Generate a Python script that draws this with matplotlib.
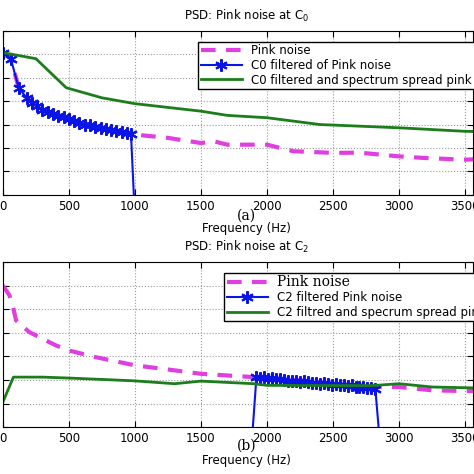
import matplotlib.pyplot as plt

# panel (a): PSD at C0 (arbitrary units, 0..7 grid)
pink_a_f = [0, 60, 120, 180, 240, 300, 420, 540, 720, 900, 1000, 1250, 1500, 1600, 1700, 2000, 2200, 2500, 2700, 3000, 3200, 3500, 3600]
pink_a = [6.07, 5.81, 4.57, 4.14, 3.86, 3.64, 3.36, 3.14, 2.86, 2.64, 2.57, 2.43, 2.21, 2.28, 2.14, 2.14, 1.86, 1.79, 1.80, 1.64, 1.57, 1.50, 1.52]
blue_a_f = [0, 60, 120, 180, 220, 260, 300, 340, 380, 420, 460, 500, 540, 580, 620, 660, 700, 740, 780, 820, 860, 900, 940, 970, 1000]
blue_a = [6.07, 5.81, 4.57, 4.14, 3.93, 3.80, 3.64, 3.52, 3.43, 3.36, 3.30, 3.22, 3.14, 3.07, 3.00, 2.96, 2.90, 2.86, 2.80, 2.76, 2.72, 2.66, 2.62, 2.61, -1.0]
green_a_f = [0, 250, 480, 750, 1000, 1500, 1700, 2000, 2400, 2700, 3000, 3500, 3600]
green_a = [6.07, 5.81, 4.57, 4.14, 3.89, 3.57, 3.39, 3.29, 3.00, 2.93, 2.86, 2.71, 2.70]

# panel (b): PSD at C2
pink_b_f = [0, 50, 80, 100, 200, 400, 500, 700, 1000, 1200, 1500, 1700, 1900, 2200, 2500, 2800, 3000, 3250, 3500, 3600]
pink_b = [6.01, 5.59, 5.02, 4.53, 4.03, 3.47, 3.25, 2.97, 2.62, 2.48, 2.26, 2.19, 2.12, 2.00, 1.85, 1.70, 1.70, 1.56, 1.53, 1.54]
blue_b_f = [1880, 1920, 1950, 1980, 2010, 2040, 2070, 2100, 2130, 2160, 2190, 2220, 2250, 2280, 2310, 2340, 2370, 2400, 2430, 2460, 2490, 2520, 2550, 2580, 2610, 2640, 2670, 2700, 2730, 2760, 2790, 2820, 2860]
blue_b = [-1.0, 2.12, 2.10, 2.13, 2.05, 2.08, 2.02, 2.04, 1.98, 1.96, 1.95, 1.97, 1.92, 1.94, 1.90, 1.88, 1.86, 1.84, 1.86, 1.82, 1.80, 1.81, 1.78, 1.80, 1.76, 1.79, 1.72, 1.70, 1.68, 1.66, 1.65, 1.63, -1.0]
green_b_f = [0, 80, 300, 500, 800, 1000, 1300, 1500, 1900, 2000, 2500, 2800, 3000, 3250, 3500, 3600]
green_b = [1.06, 2.12, 2.12, 2.08, 2.01, 1.96, 1.84, 1.95, 1.84, 1.77, 1.76, 1.76, 1.84, 1.70, 1.67, 1.66]

xticks = [0, 500, 1000, 1500, 2000, 2500, 3000, 3500]
pink_c = '#e03ee0'
blue_c = '#0a14e6'
green_c = '#1b7d1b'
star = (6, 2, 0)  # asterisk marker

fig = plt.figure(figsize=(4.74, 4.74), dpi=100)
ax1 = fig.add_axes([0.006, 0.589, 0.992, 0.346])
ax2 = fig.add_axes([0.006, 0.099, 0.992, 0.348])

for ax in (ax1, ax2):
    ax.set_xlim(0, 3560)
    ax.set_ylim(0, 7)
    ax.set_xticks(xticks)
    ax.set_yticks(range(8))
    ax.set_yticklabels([])
    ax.tick_params(direction='in', labelsize=8.5, length=4, top=True, right=True)
    ax.grid(True, linestyle=':', color='#999999', linewidth=0.8)

ax1.plot(pink_a_f, pink_a, '--', color=pink_c, lw=3, dashes=(3.5, 2.5), label='Pink noise')
ax1.plot(blue_a_f, blue_a, '-', marker=star, color=blue_c, lw=1.5, ms=9, mew=1.5,
         label='C0 filtered of Pink noise', markevery=list(range(len(blue_a_f) - 1)))
ax1.plot(green_a_f, green_a, '-', color=green_c, lw=2, label='C0 filtered and spectrum spread pink noise')
ax1.legend(loc='upper right', fontsize=8.5, fancybox=False, framealpha=1, edgecolor='black',
           borderpad=0.2, handlelength=3.5, labelspacing=0.15, bbox_to_anchor=(1.09, 0.97))

ax2.plot(pink_b_f, pink_b, '--', color=pink_c, lw=3, dashes=(3.5, 2.5), label='Pink noise')
ax2.plot(blue_b_f, blue_b, '-', marker=star, color=blue_c, lw=1.5, ms=9, mew=1.5,
         label='C2 filtered Pink noise', markevery=list(range(1, len(blue_b_f) - 1)))
ax2.plot(green_b_f, green_b, '-', color=green_c, lw=2, label='C2 filtred and specrum spread pink noise')
leg2 = ax2.legend(loc='upper right', fontsize=8.5, fancybox=False, framealpha=1, edgecolor='black',
                  borderpad=0.2, handlelength=3.5, labelspacing=0.15, bbox_to_anchor=(1.12, 0.97))
leg2.get_texts()[0].set_family('DejaVu Serif')
leg2.get_texts()[0].set_fontsize(10)

fig.text(0.52, 0.967, 'PSD: Pink noise at C$_0$', ha='center', va='center', fontsize=8.5)
fig.text(0.52, 0.545, '(a)', ha='center', va='center', fontsize=10, family='DejaVu Serif')
fig.text(0.52, 0.517, 'Frequency (Hz)', ha='center', va='center', fontsize=8.5)
fig.text(0.52, 0.479, 'PSD: Pink noise at C$_2$', ha='center', va='center', fontsize=8.5)
fig.text(0.52, 0.059, '(b)', ha='center', va='center', fontsize=10, family='DejaVu Serif')
fig.text(0.52, 0.028, 'Frequency (Hz)', ha='center', va='center', fontsize=8.5)

fig.savefig('out.png', dpi=100)
